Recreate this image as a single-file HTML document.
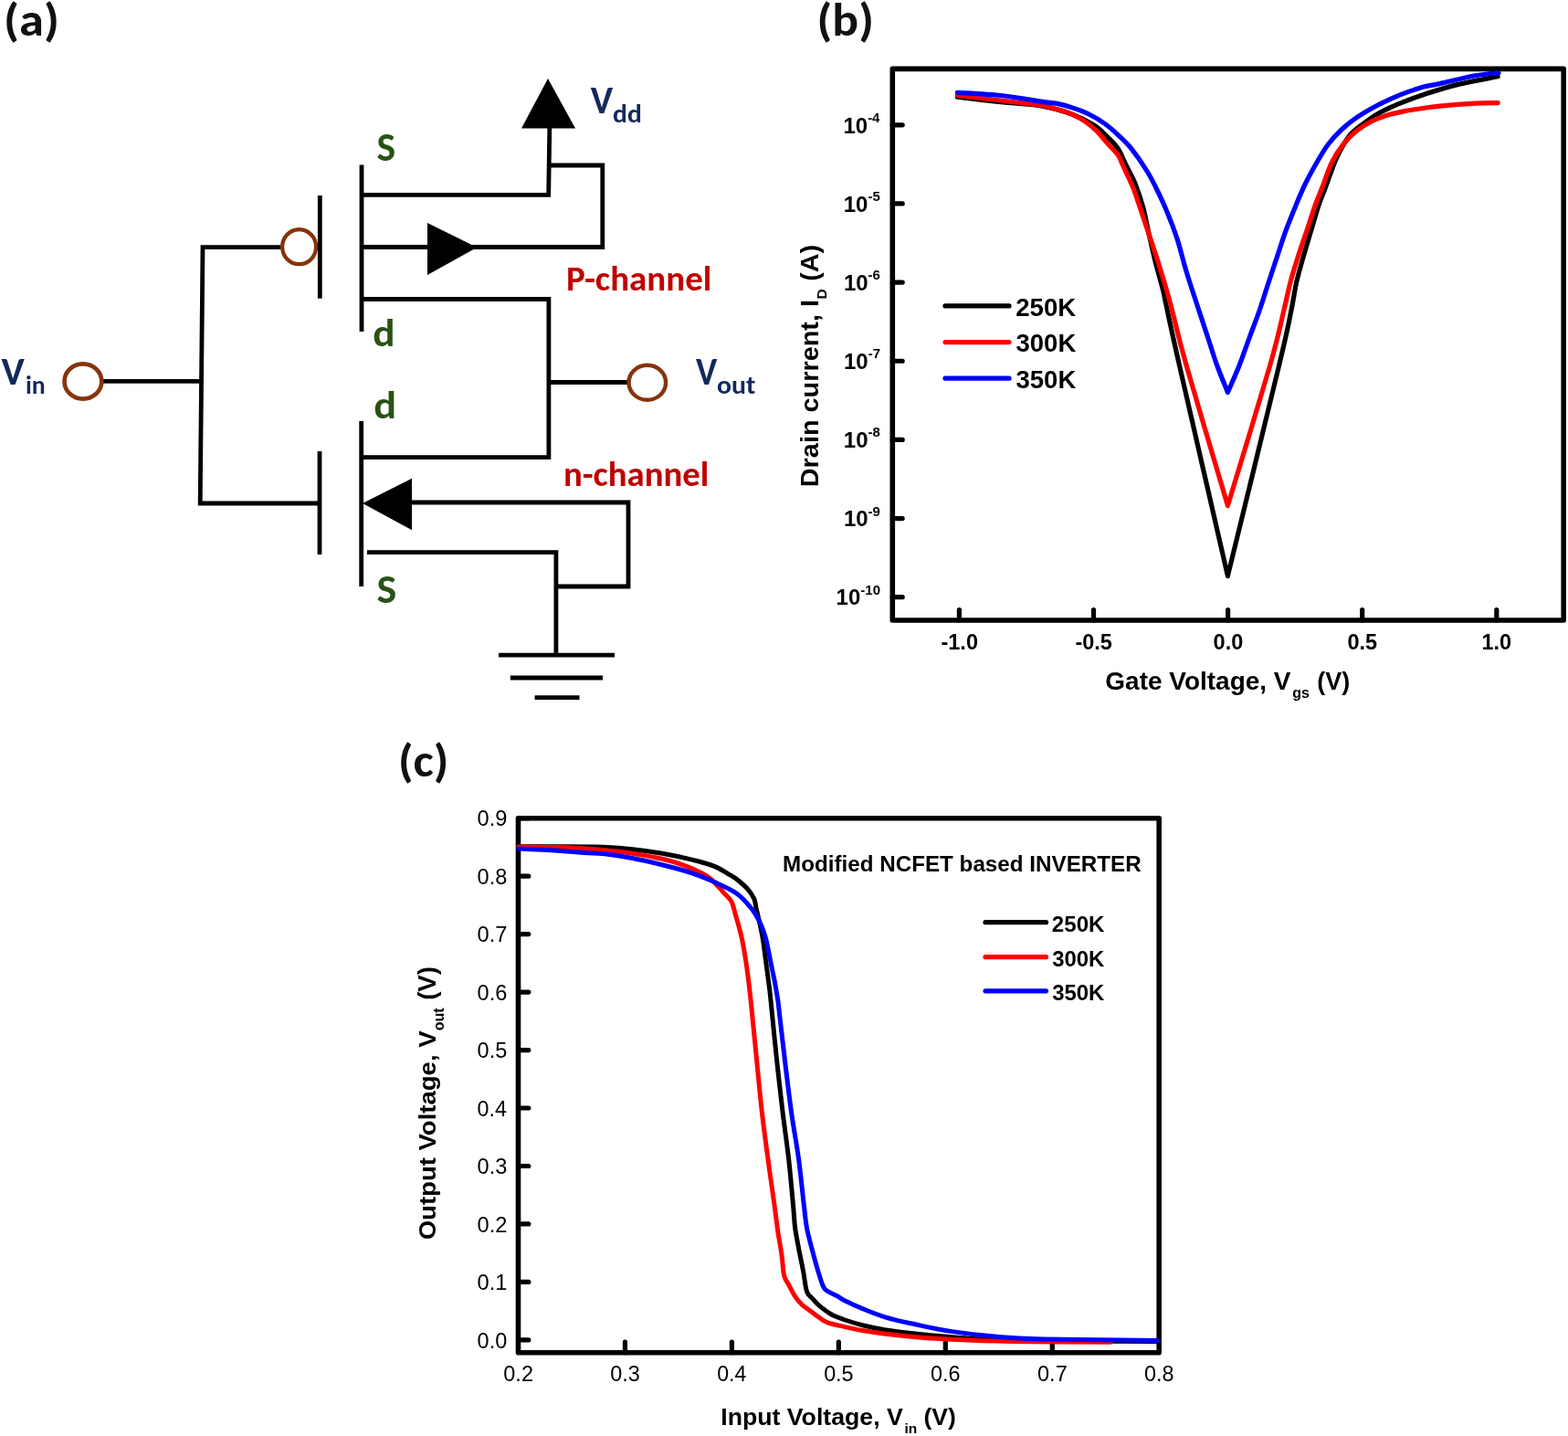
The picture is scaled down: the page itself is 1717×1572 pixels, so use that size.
<!DOCTYPE html>
<html><head><meta charset="utf-8"><title>Figure</title>
<style>html,body{margin:0;padding:0;background:#fff;overflow:hidden}svg{display:block}</style></head>
<body><svg width="1717" height="1572" viewBox="0 0 1717 1572">
<rect width="1717" height="1572" fill="#fff"/>
<ellipse cx="327.6" cy="270.2" rx="18.5" ry="19" fill="#fff" stroke="#86340A" stroke-width="4.3"/>
<g stroke="#000" stroke-width="4.8" fill="none" stroke-linecap="butt" stroke-linejoin="miter">
<path d="M307,270.6 L222,270.6 L219.2,551 L350,551"/>
<path d="M112.7,417.3 L220.6,417.3"/>
<path d="M350.3,214 L350.3,326.7"/>
<path d="M396,180.5 L396,363"/>
<path d="M396,213.3 L600.7,213.3 L601.8,140"/>
<path d="M600.7,181 L659.8,181 L659.8,270.5 L396,270.5"/>
<path d="M396,327.5 L600.9,327.5 L600.9,500.7 L396,500.7"/>
<path d="M600.9,418.5 L687,418.5"/>
<path d="M350,494 L350,607"/>
<path d="M395.7,461 L395.7,642"/>
<path d="M451,550 L688,550 L688,642 L608.9,642"/>
<path d="M402,604.6 L608.9,604.6 L608.9,717.2"/>
<path d="M546,717.2 L673,717.2 M558.8,742 L660,742 M585.6,763.7 L634.5,763.7"/>
</g>
<polygon points="600,86 571,140.5 630,140.5" fill="#000"/>
<polygon points="468,243.9 468,300.9 522.3,271" fill="#000"/>
<polygon points="397,551 451,523.8 451,580.2" fill="#000"/>
<ellipse cx="90.9" cy="417.5" rx="20.4" ry="19.1" fill="#fff" stroke="#86340A" stroke-width="4.6"/>
<ellipse cx="708.8" cy="418.8" rx="20.3" ry="19" fill="#fff" stroke="#86340A" stroke-width="4.4"/>
<text x="4.07" y="39.2" font-family="Carlito, 'Liberation Sans', sans-serif" font-size="51" font-weight="bold" fill="#111" textLength="60.85" lengthAdjust="spacingAndGlyphs">(a)</text>
<text x="894.62" y="39.2" font-family="Carlito, 'Liberation Sans', sans-serif" font-size="51" font-weight="bold" fill="#111" textLength="62.25" lengthAdjust="spacingAndGlyphs">(b)</text>
<text x="436.05" y="850.2" font-family="Carlito, 'Liberation Sans', sans-serif" font-size="51" font-weight="bold" fill="#111" textLength="55.39" lengthAdjust="spacingAndGlyphs">(c)</text>
<text x="412.49" y="176" font-family="Carlito, 'Liberation Sans', sans-serif" font-size="44" font-weight="bold" fill="#2B5216" textLength="20.63" lengthAdjust="spacingAndGlyphs">S</text>
<text x="408.2" y="379" font-family="Carlito, 'Liberation Sans', sans-serif" font-size="41.5" font-weight="bold" fill="#2B5216" textLength="24.34" lengthAdjust="spacingAndGlyphs">d</text>
<text x="409.17" y="457.6" font-family="Carlito, 'Liberation Sans', sans-serif" font-size="41.5" font-weight="bold" fill="#2B5216" textLength="24.94" lengthAdjust="spacingAndGlyphs">d</text>
<text x="412.45" y="660" font-family="Carlito, 'Liberation Sans', sans-serif" font-size="44" font-weight="bold" fill="#2B5216" textLength="21.75" lengthAdjust="spacingAndGlyphs">S</text>
<text x="646.78" y="124" font-family="Carlito, 'Liberation Sans', sans-serif" font-size="43" font-weight="bold" fill="#13295C" textLength="24.44" lengthAdjust="spacingAndGlyphs">V</text>
<text x="671.09" y="134.2" font-family="Carlito, 'Liberation Sans', sans-serif" font-size="29" font-weight="bold" fill="#13295C" textLength="31.7" lengthAdjust="spacingAndGlyphs">dd</text>
<text x="1.38" y="420.6" font-family="Carlito, 'Liberation Sans', sans-serif" font-size="43" font-weight="bold" fill="#13295C" textLength="25.34" lengthAdjust="spacingAndGlyphs">V</text>
<text x="27.98" y="431.2" font-family="Carlito, 'Liberation Sans', sans-serif" font-size="29" font-weight="bold" fill="#13295C" textLength="21.66" lengthAdjust="spacingAndGlyphs">in</text>
<text x="761.88" y="421.3" font-family="Carlito, 'Liberation Sans', sans-serif" font-size="43" font-weight="bold" fill="#13295C" textLength="23.34" lengthAdjust="spacingAndGlyphs">V</text>
<text x="785.1" y="431.2" font-family="Carlito, 'Liberation Sans', sans-serif" font-size="29" font-weight="bold" fill="#13295C" textLength="42.34" lengthAdjust="spacingAndGlyphs">out</text>
<text x="620.02" y="317.5" font-family="Carlito, 'Liberation Sans', sans-serif" font-size="37.5" font-weight="bold" fill="#C00000" textLength="159.32" lengthAdjust="spacingAndGlyphs">P-channel</text>
<text x="616.95" y="531.7" font-family="Carlito, 'Liberation Sans', sans-serif" font-size="37.5" font-weight="bold" fill="#C00000" textLength="159.39" lengthAdjust="spacingAndGlyphs">n-channel</text>
<rect x="977.3" y="75.4" width="734.9" height="603.6" fill="none" stroke="#000" stroke-width="5.6" stroke-linejoin="round"/>
<path d="M977.3,136.8 L988.2,136.8 M977.3,222.95 L988.2,222.95 M977.3,309.1 L988.2,309.1 M977.3,395.25 L988.2,395.25 M977.3,481.4 L988.2,481.4 M977.3,567.55 L988.2,567.55 M977.3,653.7 L988.2,653.7 M1050.4,679 L1050.4,667.6 M1197.5,679 L1197.5,667.6 M1344.6,679 L1344.6,667.6 M1491.7,679 L1491.7,667.6 M1638.8,679 L1638.8,667.6" stroke="#000" stroke-width="5.2" fill="none" stroke-linecap="round"/>
<text x="950.14" y="133.8" font-family="'Liberation Sans', Arial, sans-serif" font-size="15" font-weight="bold" fill="#000">-4</text>
<text x="923.42" y="145.5" font-family="'Liberation Sans', Arial, sans-serif" font-size="24" font-weight="bold" fill="#000">10</text>
<text x="950.48" y="219.95" font-family="'Liberation Sans', Arial, sans-serif" font-size="15" font-weight="bold" fill="#000">-5</text>
<text x="923.76" y="231.65" font-family="'Liberation Sans', Arial, sans-serif" font-size="24" font-weight="bold" fill="#000">10</text>
<text x="950.6" y="306.1" font-family="'Liberation Sans', Arial, sans-serif" font-size="15" font-weight="bold" fill="#000">-6</text>
<text x="923.88" y="317.8" font-family="'Liberation Sans', Arial, sans-serif" font-size="24" font-weight="bold" fill="#000">10</text>
<text x="950.72" y="392.25" font-family="'Liberation Sans', Arial, sans-serif" font-size="15" font-weight="bold" fill="#000">-7</text>
<text x="924" y="403.95" font-family="'Liberation Sans', Arial, sans-serif" font-size="24" font-weight="bold" fill="#000">10</text>
<text x="950.52" y="478.4" font-family="'Liberation Sans', Arial, sans-serif" font-size="15" font-weight="bold" fill="#000">-8</text>
<text x="923.8" y="490.1" font-family="'Liberation Sans', Arial, sans-serif" font-size="24" font-weight="bold" fill="#000">10</text>
<text x="950.62" y="564.55" font-family="'Liberation Sans', Arial, sans-serif" font-size="15" font-weight="bold" fill="#000">-9</text>
<text x="923.89" y="576.25" font-family="'Liberation Sans', Arial, sans-serif" font-size="24" font-weight="bold" fill="#000">10</text>
<text x="942.34" y="650.7" font-family="'Liberation Sans', Arial, sans-serif" font-size="15" font-weight="bold" fill="#000">-10</text>
<text x="915.61" y="662.4" font-family="'Liberation Sans', Arial, sans-serif" font-size="24" font-weight="bold" fill="#000">10</text>
<text x="1030.48" y="711.2" font-family="'Liberation Sans', Arial, sans-serif" font-size="23.5" font-weight="bold" fill="#000">-1.0</text>
<text x="1177.42" y="711.2" font-family="'Liberation Sans', Arial, sans-serif" font-size="23.5" font-weight="bold" fill="#000">-0.5</text>
<text x="1328.58" y="711.2" font-family="'Liberation Sans', Arial, sans-serif" font-size="23.5" font-weight="bold" fill="#000">0.0</text>
<text x="1475.53" y="711.2" font-family="'Liberation Sans', Arial, sans-serif" font-size="23.5" font-weight="bold" fill="#000">0.5</text>
<text x="1622.51" y="711.2" font-family="'Liberation Sans', Arial, sans-serif" font-size="23.5" font-weight="bold" fill="#000">1.0</text>
<text x="1210.36" y="755" font-family="'Liberation Sans', Arial, sans-serif" font-size="28" font-weight="bold" fill="#000" textLength="203.13" lengthAdjust="spacingAndGlyphs">Gate Voltage, V</text>
<text x="1415.14" y="764.3" font-family="'Liberation Sans', Arial, sans-serif" font-size="16" font-weight="bold" fill="#000">gs</text>
<text x="1442.26" y="755" font-family="'Liberation Sans', Arial, sans-serif" font-size="27" font-weight="bold" fill="#000">(V)</text>
<text transform="translate(895.6,531.3) rotate(-90)" x="-1.93" y="0" font-family="'Liberation Sans', Arial, sans-serif" font-size="28" font-weight="bold" fill="#000" textLength="205.26" lengthAdjust="spacingAndGlyphs">Drain current, I</text>
<text transform="translate(905.2,327.4) rotate(-90)" x="0" y="0" font-family="'Liberation Sans', Arial, sans-serif" font-size="15.5" font-weight="bold" fill="#000">D</text>
<text transform="translate(895.6,306.4) rotate(-90)" x="-1.43" y="0" font-family="'Liberation Sans', Arial, sans-serif" font-size="27" font-weight="bold" fill="#000" textLength="39.97" lengthAdjust="spacingAndGlyphs">(A)</text>
<path d="M1035,334.9 L1105,334.9" stroke="#000" stroke-width="5.2" stroke-linecap="round"/>
<text x="1112.24" y="346.1" font-family="'Liberation Sans', Arial, sans-serif" font-size="27.5" font-weight="bold" fill="#000" textLength="66.01" lengthAdjust="spacingAndGlyphs">250K</text>
<path d="M1035,374.6 L1105,374.6" stroke="#f00" stroke-width="5.2" stroke-linecap="round"/>
<text x="1112.57" y="385.3" font-family="'Liberation Sans', Arial, sans-serif" font-size="27.5" font-weight="bold" fill="#000" textLength="65.69" lengthAdjust="spacingAndGlyphs">300K</text>
<path d="M1035,414.2 L1105,414.2" stroke="#00f" stroke-width="5.2" stroke-linecap="round"/>
<text x="1112.57" y="424.5" font-family="'Liberation Sans', Arial, sans-serif" font-size="27.5" font-weight="bold" fill="#000" textLength="65.69" lengthAdjust="spacingAndGlyphs">350K</text>
<path d="M1048.4,106.2 C1056.32,107.12 1080.63,110.08 1095.9,111.7 C1111.17,113.32 1126.83,113.62 1140,115.9 C1153.17,118.18 1165.2,121.83 1174.9,125.4 C1184.6,128.97 1191.88,133.18 1198.2,137.3 C1204.52,141.42 1208.43,145.83 1212.8,150.1 C1217.17,154.37 1221.1,157.92 1224.4,162.9 C1227.7,167.88 1229.52,173.7 1232.6,180 C1235.68,186.3 1239.72,192.87 1242.9,200.7 C1246.08,208.53 1249.27,218.22 1251.7,227 C1254.13,235.78 1255.3,243.63 1257.5,253.4 C1259.7,263.17 1262.22,274.87 1264.9,285.6 C1267.58,296.33 1271.53,309.52 1273.6,317.8 C1275.67,326.08 1274.32,321.6 1277.3,335.3 C1280.28,349 1280.32,350.8 1291.5,400 C1302.68,449.2 1335.58,592.08 1344.4,630.5 M1344.4,630.5 C1353.77,592.08 1389.02,448.42 1400.6,400 C1412.18,351.58 1410.73,355.12 1413.9,340 C1417.07,324.88 1417.37,319.2 1419.6,309.3 C1421.83,299.4 1424.6,290.15 1427.3,280.6 C1430,271.05 1432.95,261.53 1435.8,252 C1438.65,242.47 1441.85,231.03 1444.4,223.4 C1446.95,215.77 1447.97,214.47 1451.1,206.2 C1454.23,197.93 1458.87,183.28 1463.2,173.8 C1467.53,164.32 1472.33,155.55 1477.1,149.3 C1481.87,143.05 1486.37,140.52 1491.8,136.3 C1497.23,132.08 1502.63,127.95 1509.7,124 C1516.77,120.05 1525.82,116.07 1534.2,112.6 C1542.58,109.13 1549.72,106.53 1560,103.2 C1570.28,99.87 1582.55,95.85 1595.9,92.6 C1609.25,89.35 1632.73,85.18 1640.1,83.7" stroke="#000" stroke-width="5.2" fill="none" stroke-linejoin="round" stroke-linecap="round"/>
<path d="M1048.4,104.3 C1056.32,105.25 1080.63,108.15 1095.9,110 C1111.17,111.85 1129.73,113.77 1140,115.4 C1150.27,117.03 1151.68,118.1 1157.5,119.8 C1163.32,121.5 1169.57,123.27 1174.9,125.6 C1180.23,127.93 1185.12,130.78 1189.5,133.8 C1193.88,136.82 1197.32,139.82 1201.2,143.7 C1205.08,147.58 1208.93,152.73 1212.8,157.1 C1216.67,161.47 1221.68,166.08 1224.4,169.9 C1227.12,173.72 1226.5,174.38 1229.1,180 C1231.7,185.62 1236.97,196.25 1240,203.6 C1243.03,210.95 1244.62,216.28 1247.3,224.1 C1249.98,231.92 1253.17,241.72 1256.1,250.5 C1259.03,259.28 1261.98,267.78 1264.9,276.8 C1267.82,285.82 1270.68,294.85 1273.6,304.6 C1276.52,314.35 1278.15,319.4 1282.4,335.3 C1286.65,351.2 1288.77,363.63 1299.1,400 C1309.43,436.37 1336.85,527.92 1344.4,553.5 M1344.4,553.5 C1352.12,527.92 1380.47,435.58 1390.7,400 C1400.93,364.42 1402.1,355.12 1405.8,340 C1409.5,324.88 1410.28,319.2 1412.9,309.3 C1415.52,299.4 1418.47,290.15 1421.5,280.6 C1424.53,271.05 1427.92,261.53 1431.1,252 C1434.28,242.47 1437.75,231.35 1440.6,223.4 C1443.45,215.45 1445.25,211.9 1448.2,204.3 C1451.15,196.7 1454.57,185.47 1458.3,177.8 C1462.03,170.13 1466.12,164 1470.6,158.3 C1475.08,152.6 1480.05,147.82 1485.2,143.6 C1490.35,139.38 1496.07,135.85 1501.5,133 C1506.93,130.15 1511.68,128.4 1517.8,126.5 C1523.92,124.6 1531.17,122.97 1538.2,121.6 C1545.23,120.23 1553.65,119.22 1560,118.3 C1566.35,117.38 1567.05,116.95 1576.3,116.1 C1585.55,115.25 1604.87,113.78 1615.5,113.2 C1626.13,112.62 1636,112.7 1640.1,112.6" stroke="#f00" stroke-width="5.2" fill="none" stroke-linejoin="round" stroke-linecap="round"/>
<path d="M1048.4,101.3 C1056.32,101.83 1080.63,102.87 1095.9,104.5 C1111.17,106.13 1129.73,109.62 1140,111.1 C1150.27,112.58 1151.68,112.23 1157.5,113.4 C1163.32,114.57 1169.08,116.17 1174.9,118.1 C1180.72,120.03 1186.57,122.1 1192.4,125 C1198.23,127.9 1204.57,131.7 1209.9,135.5 C1215.23,139.3 1219.55,143.23 1224.4,147.8 C1229.25,152.37 1233.72,156.28 1239,162.9 C1244.28,169.52 1251.3,179.73 1256.1,187.5 C1260.9,195.27 1263.9,201.45 1267.8,209.5 C1271.7,217.55 1275.85,226.78 1279.5,235.8 C1283.15,244.82 1286.28,252.87 1289.7,263.6 C1293.12,274.33 1294.55,282.68 1300,300.2 C1305.45,317.72 1316.95,352.07 1322.4,368.7 C1327.85,385.33 1329.03,389.87 1332.7,400 C1336.37,410.13 1342.45,424.58 1344.4,429.5 M1344.4,429.5 C1346.52,424.58 1353.08,410.13 1357.1,400 C1361.12,389.87 1364.83,378.7 1368.5,368.7 C1372.17,358.7 1375.67,349.9 1379.1,340 C1382.53,330.1 1385.85,319.2 1389.1,309.3 C1392.35,299.4 1395.42,290.15 1398.6,280.6 C1401.78,271.05 1404.7,261.53 1408.2,252 C1411.7,242.47 1416.1,231.82 1419.6,223.4 C1423.1,214.98 1425.47,209.1 1429.2,201.5 C1432.93,193.9 1437.83,185 1442,177.8 C1446.17,170.6 1449.72,164.27 1454.2,158.3 C1458.68,152.33 1463.73,146.9 1468.9,142 C1474.07,137.1 1479.08,133.12 1485.2,128.9 C1491.32,124.68 1498.8,120.37 1505.6,116.7 C1512.4,113.03 1519.88,109.62 1526,106.9 C1532.12,104.18 1536.63,102.43 1542.3,100.4 C1547.97,98.37 1554.33,96.17 1560,94.7 C1565.67,93.23 1567.05,93.58 1576.3,91.6 C1585.55,89.62 1604.72,84.77 1615.5,82.8 C1626.28,80.83 1636.75,80.3 1641,79.8" stroke="#00f" stroke-width="5.2" fill="none" stroke-linejoin="round" stroke-linecap="round"/>
<rect x="567.5" y="895.7" width="701.7" height="585" fill="none" stroke="#000" stroke-width="5.6" stroke-linejoin="round"/>
<path d="M567.5,1466.9 L578.8,1466.9 M567.5,1403.43 L578.8,1403.43 M567.5,1339.96 L578.8,1339.96 M567.5,1276.49 L578.8,1276.49 M567.5,1213.02 L578.8,1213.02 M567.5,1149.55 L578.8,1149.55 M567.5,1086.08 L578.8,1086.08 M567.5,1022.61 L578.8,1022.61 M567.5,959.14 L578.8,959.14 M567.5,895.67 L578.8,895.67 M684.45,1480.7 L684.45,1469.2 M801.4,1480.7 L801.4,1469.2 M918.35,1480.7 L918.35,1469.2 M1035.3,1480.7 L1035.3,1469.2 M1152.25,1480.7 L1152.25,1469.2" stroke="#000" stroke-width="5.2" fill="none" stroke-linecap="round"/>
<text x="522.58" y="1475.5" font-family="'Liberation Sans', Arial, sans-serif" font-size="24" font-weight="normal" fill="#000" textLength="32.63" lengthAdjust="spacingAndGlyphs">0.0</text>
<text x="522.58" y="1412.03" font-family="'Liberation Sans', Arial, sans-serif" font-size="24" font-weight="normal" fill="#000" textLength="32.88" lengthAdjust="spacingAndGlyphs">0.1</text>
<text x="522.58" y="1348.56" font-family="'Liberation Sans', Arial, sans-serif" font-size="24" font-weight="normal" fill="#000" textLength="32.92" lengthAdjust="spacingAndGlyphs">0.2</text>
<text x="522.58" y="1285.09" font-family="'Liberation Sans', Arial, sans-serif" font-size="24" font-weight="normal" fill="#000" textLength="32.76" lengthAdjust="spacingAndGlyphs">0.3</text>
<text x="522.59" y="1221.62" font-family="'Liberation Sans', Arial, sans-serif" font-size="24" font-weight="normal" fill="#000" textLength="32.39" lengthAdjust="spacingAndGlyphs">0.4</text>
<text x="522.58" y="1158.15" font-family="'Liberation Sans', Arial, sans-serif" font-size="24" font-weight="normal" fill="#000" textLength="32.71" lengthAdjust="spacingAndGlyphs">0.5</text>
<text x="522.58" y="1094.68" font-family="'Liberation Sans', Arial, sans-serif" font-size="24" font-weight="normal" fill="#000" textLength="32.76" lengthAdjust="spacingAndGlyphs">0.6</text>
<text x="522.58" y="1031.21" font-family="'Liberation Sans', Arial, sans-serif" font-size="24" font-weight="normal" fill="#000" textLength="32.92" lengthAdjust="spacingAndGlyphs">0.7</text>
<text x="522.58" y="967.74" font-family="'Liberation Sans', Arial, sans-serif" font-size="24" font-weight="normal" fill="#000" textLength="32.74" lengthAdjust="spacingAndGlyphs">0.8</text>
<text x="522.58" y="904.27" font-family="'Liberation Sans', Arial, sans-serif" font-size="24" font-weight="normal" fill="#000" textLength="32.84" lengthAdjust="spacingAndGlyphs">0.9</text>
<text x="551.28" y="1512.2" font-family="'Liberation Sans', Arial, sans-serif" font-size="24" font-weight="normal" fill="#000" textLength="32.7" lengthAdjust="spacingAndGlyphs">0.2</text>
<text x="668.24" y="1512.2" font-family="'Liberation Sans', Arial, sans-serif" font-size="24" font-weight="normal" fill="#000" textLength="32.54" lengthAdjust="spacingAndGlyphs">0.3</text>
<text x="785.2" y="1512.2" font-family="'Liberation Sans', Arial, sans-serif" font-size="24" font-weight="normal" fill="#000" textLength="32.18" lengthAdjust="spacingAndGlyphs">0.4</text>
<text x="902.14" y="1512.2" font-family="'Liberation Sans', Arial, sans-serif" font-size="24" font-weight="normal" fill="#000" textLength="32.49" lengthAdjust="spacingAndGlyphs">0.5</text>
<text x="1019.09" y="1512.2" font-family="'Liberation Sans', Arial, sans-serif" font-size="24" font-weight="normal" fill="#000" textLength="32.54" lengthAdjust="spacingAndGlyphs">0.6</text>
<text x="1136.03" y="1512.2" font-family="'Liberation Sans', Arial, sans-serif" font-size="24" font-weight="normal" fill="#000" textLength="32.7" lengthAdjust="spacingAndGlyphs">0.7</text>
<text x="1252.99" y="1512.2" font-family="'Liberation Sans', Arial, sans-serif" font-size="24" font-weight="normal" fill="#000" textLength="32.53" lengthAdjust="spacingAndGlyphs">0.8</text>
<text x="789.23" y="1560" font-family="'Liberation Sans', Arial, sans-serif" font-size="26.5" font-weight="bold" fill="#000" textLength="199.55" lengthAdjust="spacingAndGlyphs">Input Voltage, V</text>
<text x="990.42" y="1568.8" font-family="'Liberation Sans', Arial, sans-serif" font-size="15.5" font-weight="bold" fill="#000">in</text>
<text x="1011.48" y="1560" font-family="'Liberation Sans', Arial, sans-serif" font-size="26.5" font-weight="bold" fill="#000">(V)</text>
<text transform="translate(476.9,1356.2) rotate(-90)" x="-1.12" y="0" font-family="'Liberation Sans', Arial, sans-serif" font-size="26.5" font-weight="bold" fill="#000" textLength="228.91" lengthAdjust="spacingAndGlyphs">Output Voltage, V</text>
<text transform="translate(486.2,1128.3) rotate(-90)" x="0" y="0" font-family="'Liberation Sans', Arial, sans-serif" font-size="16" font-weight="bold" fill="#000">out</text>
<text transform="translate(476.9,1093.5) rotate(-90)" x="-1.38" y="0" font-family="'Liberation Sans', Arial, sans-serif" font-size="27" font-weight="bold" fill="#000" textLength="36.96" lengthAdjust="spacingAndGlyphs">(V)</text>
<text x="856.98" y="954.2" font-family="'Liberation Sans', Arial, sans-serif" font-size="23" font-weight="bold" fill="#000" textLength="392.72" lengthAdjust="spacingAndGlyphs">Modified NCFET based INVERTER</text>
<path d="M1079,1009.7 L1145.5,1009.7" stroke="#000" stroke-width="5.2" stroke-linecap="round"/>
<text x="1151.87" y="1020" font-family="'Liberation Sans', Arial, sans-serif" font-size="24.5" font-weight="bold" fill="#000" textLength="57.56" lengthAdjust="spacingAndGlyphs">250K</text>
<path d="M1079,1047.7 L1145.5,1047.7" stroke="#f00" stroke-width="5.2" stroke-linecap="round"/>
<text x="1152.15" y="1058" font-family="'Liberation Sans', Arial, sans-serif" font-size="24.5" font-weight="bold" fill="#000" textLength="57.27" lengthAdjust="spacingAndGlyphs">300K</text>
<path d="M1079,1084.8 L1145.5,1084.8" stroke="#00f" stroke-width="5.2" stroke-linecap="round"/>
<text x="1152.15" y="1095.2" font-family="'Liberation Sans', Arial, sans-serif" font-size="24.5" font-weight="bold" fill="#000" textLength="57.27" lengthAdjust="spacingAndGlyphs">350K</text>
<path d="M567.9,926.8 C573.25,926.8 587.98,926.77 600,926.8 C612.02,926.83 630,926.93 640,927 C650,927.07 651.23,926.75 660,927.2 C668.77,927.65 681.73,928.53 692.6,929.7 C703.47,930.87 714.33,932.3 725.2,934.2 C736.07,936.1 748.28,938.73 757.8,941.1 C767.32,943.47 775.27,945.55 782.3,948.4 C789.33,951.25 795.97,955.88 800,958.2 C804.03,960.52 803.4,959.8 806.5,962.3 C809.6,964.8 815.38,969.57 818.6,973.2 C821.82,976.83 824.2,980.48 825.8,984.1 C827.4,987.72 827.18,990.48 828.2,994.9 C829.22,999.32 830.68,1004.95 831.9,1010.6 C833.12,1016.25 834.5,1022.75 835.5,1028.8 C836.5,1034.85 837.1,1040.87 837.9,1046.9 C838.7,1052.93 839.5,1058.95 840.3,1065 C841.1,1071.05 842,1077.37 842.7,1083.2 C843.4,1089.03 843.22,1087.43 844.5,1100 C845.78,1112.57 848.32,1139.08 850.4,1158.6 C852.48,1178.12 854.8,1198.8 857,1217.1 C859.2,1235.4 861.67,1251.25 863.6,1268.4 C865.53,1285.55 867.43,1307.42 868.6,1320 C869.77,1332.58 869.57,1335.95 870.6,1343.9 C871.63,1351.85 873.3,1359.75 874.8,1367.7 C876.3,1375.65 878.17,1383.97 879.6,1391.6 C881.03,1399.23 881.8,1408.58 883.4,1413.5 C885,1418.42 886.65,1418.23 889.2,1421.1 C891.75,1423.97 895.05,1427.67 898.7,1430.7 C902.35,1433.73 906.65,1436.92 911.1,1439.3 C915.55,1441.68 919.83,1443.1 925.4,1445 C930.97,1446.9 937.07,1448.87 944.5,1450.7 C951.93,1452.53 960.75,1454.48 970,1456 C979.25,1457.52 988.33,1458.55 1000,1459.8 C1011.67,1461.05 1026.17,1462.42 1040,1463.5 C1053.83,1464.58 1064.67,1465.55 1083,1466.3 C1101.33,1467.05 1119.33,1467.63 1150,1468 C1180.67,1468.37 1247.5,1468.42 1267,1468.5" stroke="#000" stroke-width="5" fill="none" stroke-linejoin="round" stroke-linecap="round"/>
<path d="M567.9,927 C576.58,927.13 604.65,927.22 620,927.8 C635.35,928.38 647.9,929.43 660,930.5 C672.1,931.57 681.73,932.57 692.6,934.2 C703.47,935.83 715.68,938.07 725.2,940.3 C734.72,942.53 741.53,944.48 749.7,947.6 C757.87,950.72 768.08,955.2 774.2,959 C780.32,962.8 783.43,967.43 786.4,970.4 C789.37,973.37 789.57,974.02 792,976.8 C794.43,979.58 798.78,983.07 801,987.1 C803.22,991.13 803.58,995.07 805.3,1001 C807.02,1006.93 809.7,1016.05 811.3,1022.7 C812.9,1029.35 813.68,1033.85 814.9,1040.9 C816.12,1047.95 817.32,1055.15 818.6,1065 C819.88,1074.85 820.97,1084.4 822.6,1100 C824.23,1115.6 826.45,1139.08 828.4,1158.6 C830.35,1178.12 832.22,1198.8 834.3,1217.1 C836.38,1235.4 838.6,1251.25 840.9,1268.4 C843.2,1285.55 846.27,1306.63 848.1,1320 C849.93,1333.37 850.62,1339.85 851.9,1348.6 C853.18,1357.35 854.68,1364.55 855.8,1372.5 C856.92,1380.45 857.33,1390.73 858.6,1396.3 C859.87,1401.87 861.48,1402.23 863.4,1405.9 C865.32,1409.57 867.72,1414.65 870.1,1418.3 C872.48,1421.95 874.52,1424.78 877.7,1427.8 C880.88,1430.82 886.02,1434.02 889.2,1436.4 C892.38,1438.78 893.95,1440.18 896.8,1442.1 C899.65,1444.02 901.53,1446.15 906.3,1447.9 C911.07,1449.65 919.03,1451.17 925.4,1452.6 C931.77,1454.03 937.07,1455.22 944.5,1456.5 C951.93,1457.78 960.75,1459.13 970,1460.3 C979.25,1461.47 988.22,1462.52 1000,1463.5 C1011.78,1464.48 1022.67,1465.38 1040.7,1466.2 C1058.73,1467.02 1078.93,1467.9 1108.2,1468.4 C1137.47,1468.9 1198.28,1469.07 1216.3,1469.2" stroke="#f00" stroke-width="5" fill="none" stroke-linejoin="round" stroke-linecap="round"/>
<path d="M567.9,928.9 C573.25,929.18 587.98,929.83 600,930.6 C612.02,931.37 630,932.83 640,933.5 C650,934.17 651.23,933.6 660,934.6 C668.77,935.6 681.73,937.47 692.6,939.5 C703.47,941.53 714.33,944.08 725.2,946.8 C736.07,949.52 748.28,952.67 757.8,955.8 C767.32,958.93 774.18,961.9 782.3,965.6 C790.42,969.3 799.85,973.32 806.5,978 C813.15,982.68 817.97,988.47 822.2,993.7 C826.43,998.93 829.28,1004.17 831.9,1009.4 C834.52,1014.63 836.3,1019.85 837.9,1025.1 C839.5,1030.35 840.3,1035.25 841.5,1040.9 C842.7,1046.55 843.88,1052.97 845.1,1059 C846.32,1065.03 847.68,1071.07 848.8,1077.1 C849.92,1083.13 851.2,1091.38 851.8,1095.2 C852.4,1099.02 851.17,1089.43 852.4,1100 C853.63,1110.57 856.85,1139.08 859.2,1158.6 C861.55,1178.12 863.95,1198.8 866.5,1217.1 C869.05,1235.4 872.18,1251.25 874.5,1268.4 C876.82,1285.55 878.92,1307.42 880.4,1320 C881.88,1332.58 881.93,1335.95 883.4,1343.9 C884.87,1351.85 887.13,1359.75 889.2,1367.7 C891.27,1375.65 893.73,1384.77 895.8,1391.6 C897.87,1398.43 899.85,1405.05 901.6,1408.7 C903.35,1412.35 903.92,1411.9 906.3,1413.5 C908.68,1415.1 912.72,1416.55 915.9,1418.3 C919.08,1420.05 920.63,1421.62 925.4,1424 C930.17,1426.38 937.07,1429.58 944.5,1432.6 C951.93,1435.62 960.75,1439.32 970,1442.1 C979.25,1444.88 988.22,1446.75 1000,1449.3 C1011.78,1451.85 1025.48,1455.07 1040.7,1457.4 C1055.92,1459.73 1074.42,1461.88 1091.3,1463.3 C1108.18,1464.72 1112.72,1465.18 1142,1465.9 C1171.28,1466.62 1246.17,1467.32 1267,1467.6" stroke="#00f" stroke-width="5" fill="none" stroke-linejoin="round" stroke-linecap="round"/>
</svg></body></html>
